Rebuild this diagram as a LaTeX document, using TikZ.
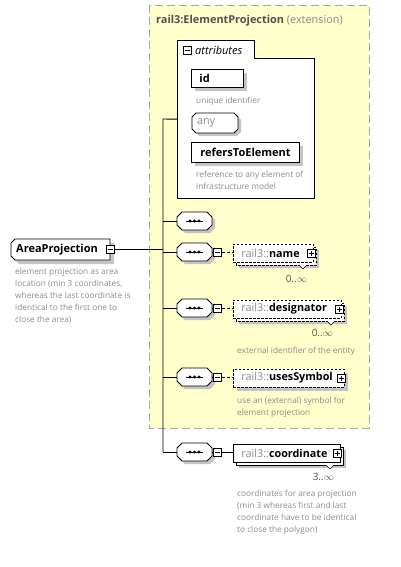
\documentclass[tikz,border=0pt]{standalone}
\usepackage{fontspec}
\setmainfont{Open Sans}
\usetikzlibrary{calc}
\definecolor{ybg}{HTML}{FFFFCC}
\definecolor{ybd}{HTML}{A6A6A6}
\definecolor{tg}{HTML}{8A8A8A}
\definecolor{sh}{HTML}{C4C4C4}
\definecolor{dk}{HTML}{505050}
\newcommand\eln[1]{{\color{tg}rail3::}\textbf{#1}}
\newcommand\octa[6]{%
 \draw[#6] (#1-#3+#5,#2-#4) -- (#1+#3-#5,#2-#4) -- (#1+#3,#2-#4+#5) -- (#1+#3,#2+#4-#5) -- (#1+#3-#5,#2+#4) -- (#1-#3+#5,#2+#4) -- (#1-#3,#2+#4-#5) -- (#1-#3,#2-#4+#5) -- cycle;}
\newcommand\seqnd[3]{%
 \octa{#2+3}{#3+3}{17.5}{9}{5}{fill=sh, draw=none}
 \octa{#2}{#3}{17.5}{9}{5}{fill=white, draw=black, line width=0.9pt}
 \node[seqin] (#1) at (#2,#3) {};
 \draw[line width=0.9pt] (#2-8.5,#3) -- (#2+8.5,#3);
 \foreach \d in {-4.5,0,4.5} \fill (#2+\d,#3) circle (1.6);
}
\newcommand\minbtn[3]{%
 \node[btn] (#1) at (#2,#3) {};
 \draw[line width=0.6pt] ([xshift=-2.5pt]#1.center) -- ([xshift=2.5pt]#1.center);
}
\newcommand\plusbtn[3]{%
 \node[btn] (#1) at (#2,#3) {};
 \draw[line width=0.6pt] ([xshift=-2.5pt]#1.center) -- ([xshift=2.5pt]#1.center);
 \draw[line width=0.6pt] ([yshift=-2.5pt]#1.center) -- ([yshift=2.5pt]#1.center);
}
\newcommand\shrect[4]{\fill[sh] (#1,#2) rectangle (#3,#4);}
\tikzset{
  box/.style={draw=black, fill=white, rectangle, anchor=west, minimum height=18pt, inner ysep=0pt, align=left, font=\fontsize{10.8}{12}\selectfont, line width=0.9pt},
  optbox/.style={box, dash pattern=on 2.5pt off 1.5pt},
  backopt/.style={draw=black, fill=white, line width=0.9pt, dash pattern=on 2.5pt off 1.5pt},
  backsol/.style={draw=black, fill=white, line width=0.9pt},
  desc/.style={anchor=north west, inner sep=0pt, align=left, text=tg, font=\fontsize{8.3}{12}\selectfont},
  mult/.style={anchor=east, inner sep=0pt, font=\fontsize{10}{11}\selectfont, text=dk},
  btn/.style={draw=black, fill=white, rectangle, minimum size=8pt, inner sep=0pt, line width=0.6pt},
  seqin/.style={rectangle, minimum width=35pt, minimum height=18pt, inner sep=0pt},
  conn/.style={line width=0.9pt},
  optconn/.style={line width=0.9pt, dash pattern=on 3pt off 2pt},
}
\begin{document}
\begin{tikzpicture}[x=1pt,y=-1pt]
\useasboundingbox (0,0) rectangle (400,567);
% extension box
\draw[fill=ybg, draw=ybd, dash pattern=on 8pt off 4pt, line width=0.8pt] (149,5) rectangle (369,428);
\node[anchor=west, inner sep=0pt, font=\fontsize{10.9}{12}\selectfont] (title) at (156,21) {\textcolor{dk}{\textbf{rail3:ElementProjection}} \textcolor{tg}{(extension)}};
% attributes
\draw[fill=white, line width=0.9pt] (177,198) -- (177,40) -- (254,40) -- (254,58) -- (314,58) -- (314,198) -- cycle;
\node[rectangle, minimum width=137pt, minimum height=158pt, anchor=north west, inner sep=0pt] (attrs) at (177,40) {};
\minbtn{ab}{187}{50}
\node[anchor=west, inner sep=0pt, font=\itshape\fontsize{11}{12}\selectfont] (atl) at (195,50) {attributes};
\shrect{195}{73}{247}{91}
\node[box, minimum width=52pt, text width=36pt, inner xsep=8pt, font=\fontsize{11}{12}\selectfont] (id) at (191,78) {\textbf{id}};
\node[desc] (idd) at (196,97) {unique identifier};
\octa{218}{126}{23}{10}{4}{fill=sh, draw=none}
\octa{215}{123}{23}{10}{4}{fill=white, draw=black, line width=0.9pt}
\node[rectangle, minimum width=46pt, minimum height=20pt, inner xsep=5pt, text width=36pt, align=left, inner ysep=0pt, text=tg, font=\fontsize{10.8}{12}\selectfont] (any) at (215,123) {any};
\shrect{195}{146}{303}{166}
\node[box, minimum width=108pt, minimum height=20pt, text width=90pt, inner xsep=9pt, font=\fontsize{11}{12}\selectfont] (rte) at (191,152) {\textbf{refersToElement}};
\node[desc] (rted) at (196,171) {reference to any element of\\infrastructure model};
% trunk
\coordinate (tt) at (163,119);
\coordinate (tb) at (163,452);
\draw[conn] (attrs.west) -- (tt) -- (tb);
% AreaProjection
\fill[sh] (19,243) -- (114,243) -- (114,264) -- (19,264) -- (15,260) -- (15,247) -- cycle;
\draw[fill=white, line width=0.9pt] (15,239) -- (110,239) -- (110,260) -- (15,260) -- (11,256) -- (11,243) -- cycle;
\node[rectangle, anchor=west, minimum width=99pt, minimum height=21pt, inner xsep=5pt, text width=89pt, align=left, inner ysep=0pt, font=\bfseries\fontsize{11}{12}\selectfont] (ap) at (11,249.5) {AreaProjection};
\minbtn{apb}{110}{249}
\draw[conn] (apb.east) -- (apb.east -| tt);
\node[desc] (apd) at (15,267.5) {element projection as area\\location (min 3 coordinates,\\whereas the last coordinate is\\identical to the first one to\\close the area)};
% sequences
\seqnd{s1}{194.5}{221}
\seqnd{s2}{194.5}{252}
\seqnd{s3}{194.5}{308}
\seqnd{s4}{194.5}{377}
\seqnd{s5}{194.5}{452}
\foreach \s in {s1,s2,s3,s4,s5} \draw[conn] (\s.west -| tt) -- (\s.west);
\minbtn{m2}{217.5}{252}
\minbtn{m3}{217.5}{308}
\minbtn{m4}{217.5}{377}
\minbtn{m5}{217.5}{452}
% name
\shrect{239}{250}{319}{268}
\draw[backopt] (236,247) rectangle (316,265);
\draw[line width=0.6pt, fill=white] (299,265) -- (303,269) -- (307,265);
\node[optbox, minimum width=80pt, text width=64pt, inner xsep=8pt] (nm) at (233,253) {\eln{name}};
\plusbtn{pn}{311}{253}
\node[mult] (nmm) at (307,279) {0..$\infty$};
% designator
\shrect{239}{306}{347}{324}
\draw[backopt] (236,303) rectangle (344,321);
\draw[line width=0.6pt, fill=white] (327,321) -- (331,325) -- (335,321);
\node[optbox, minimum width=108pt, text width=92pt, inner xsep=8pt] (dg) at (233,309) {\eln{designator}};
\plusbtn{pd}{339}{309}
\node[mult] (dgm) at (333,333) {0..$\infty$};
\node[desc] (dgd) at (237,347) {external identifier of the entity};
% usesSymbol
\shrect{237}{373}{348}{391}
\node[optbox, minimum width=111pt, text width=95pt, inner xsep=8pt] (us) at (233,378) {\eln{usesSymbol}};
\plusbtn{pu}{341}{378}
\node[desc] (usd) at (237,397) {use an (external) symbol for\\element projection};
% coordinate
\shrect{239}{450}{346}{468}
\draw[backsol] (236,447) rectangle (343,465);
\draw[line width=0.6pt, fill=white] (326,465) -- (330,469) -- (334,465);
\node[box, minimum width=107pt, text width=91pt, inner xsep=8pt] (co) at (233,453) {\eln{coordinate}};
\plusbtn{pc}{337}{453}
\node[mult] (com) at (334,477) {3..$\infty$};
\node[desc] (cod) at (237,490) {coordinates for area projection\\(min 3 whereas first and last\\coordinate have to be identical\\to close the polygon)};
% connectors
\draw[conn] (s2.east) -- (m2.west);
\draw[conn] (s3.east) -- (m3.west);
\draw[conn] (s4.east) -- (m4.west);
\draw[conn] (s5.east) -- (m5.west);
\draw[optconn] (m2.east) -- (m2.east -| nm.west);
\draw[optconn] (m3.east) -- (m3.east -| dg.west);
\draw[optconn] (m4.east) -- (m4.east -| us.west);
\draw[conn] (m5.east) -- (m5.east -| co.west);
\end{tikzpicture}
\end{document}
